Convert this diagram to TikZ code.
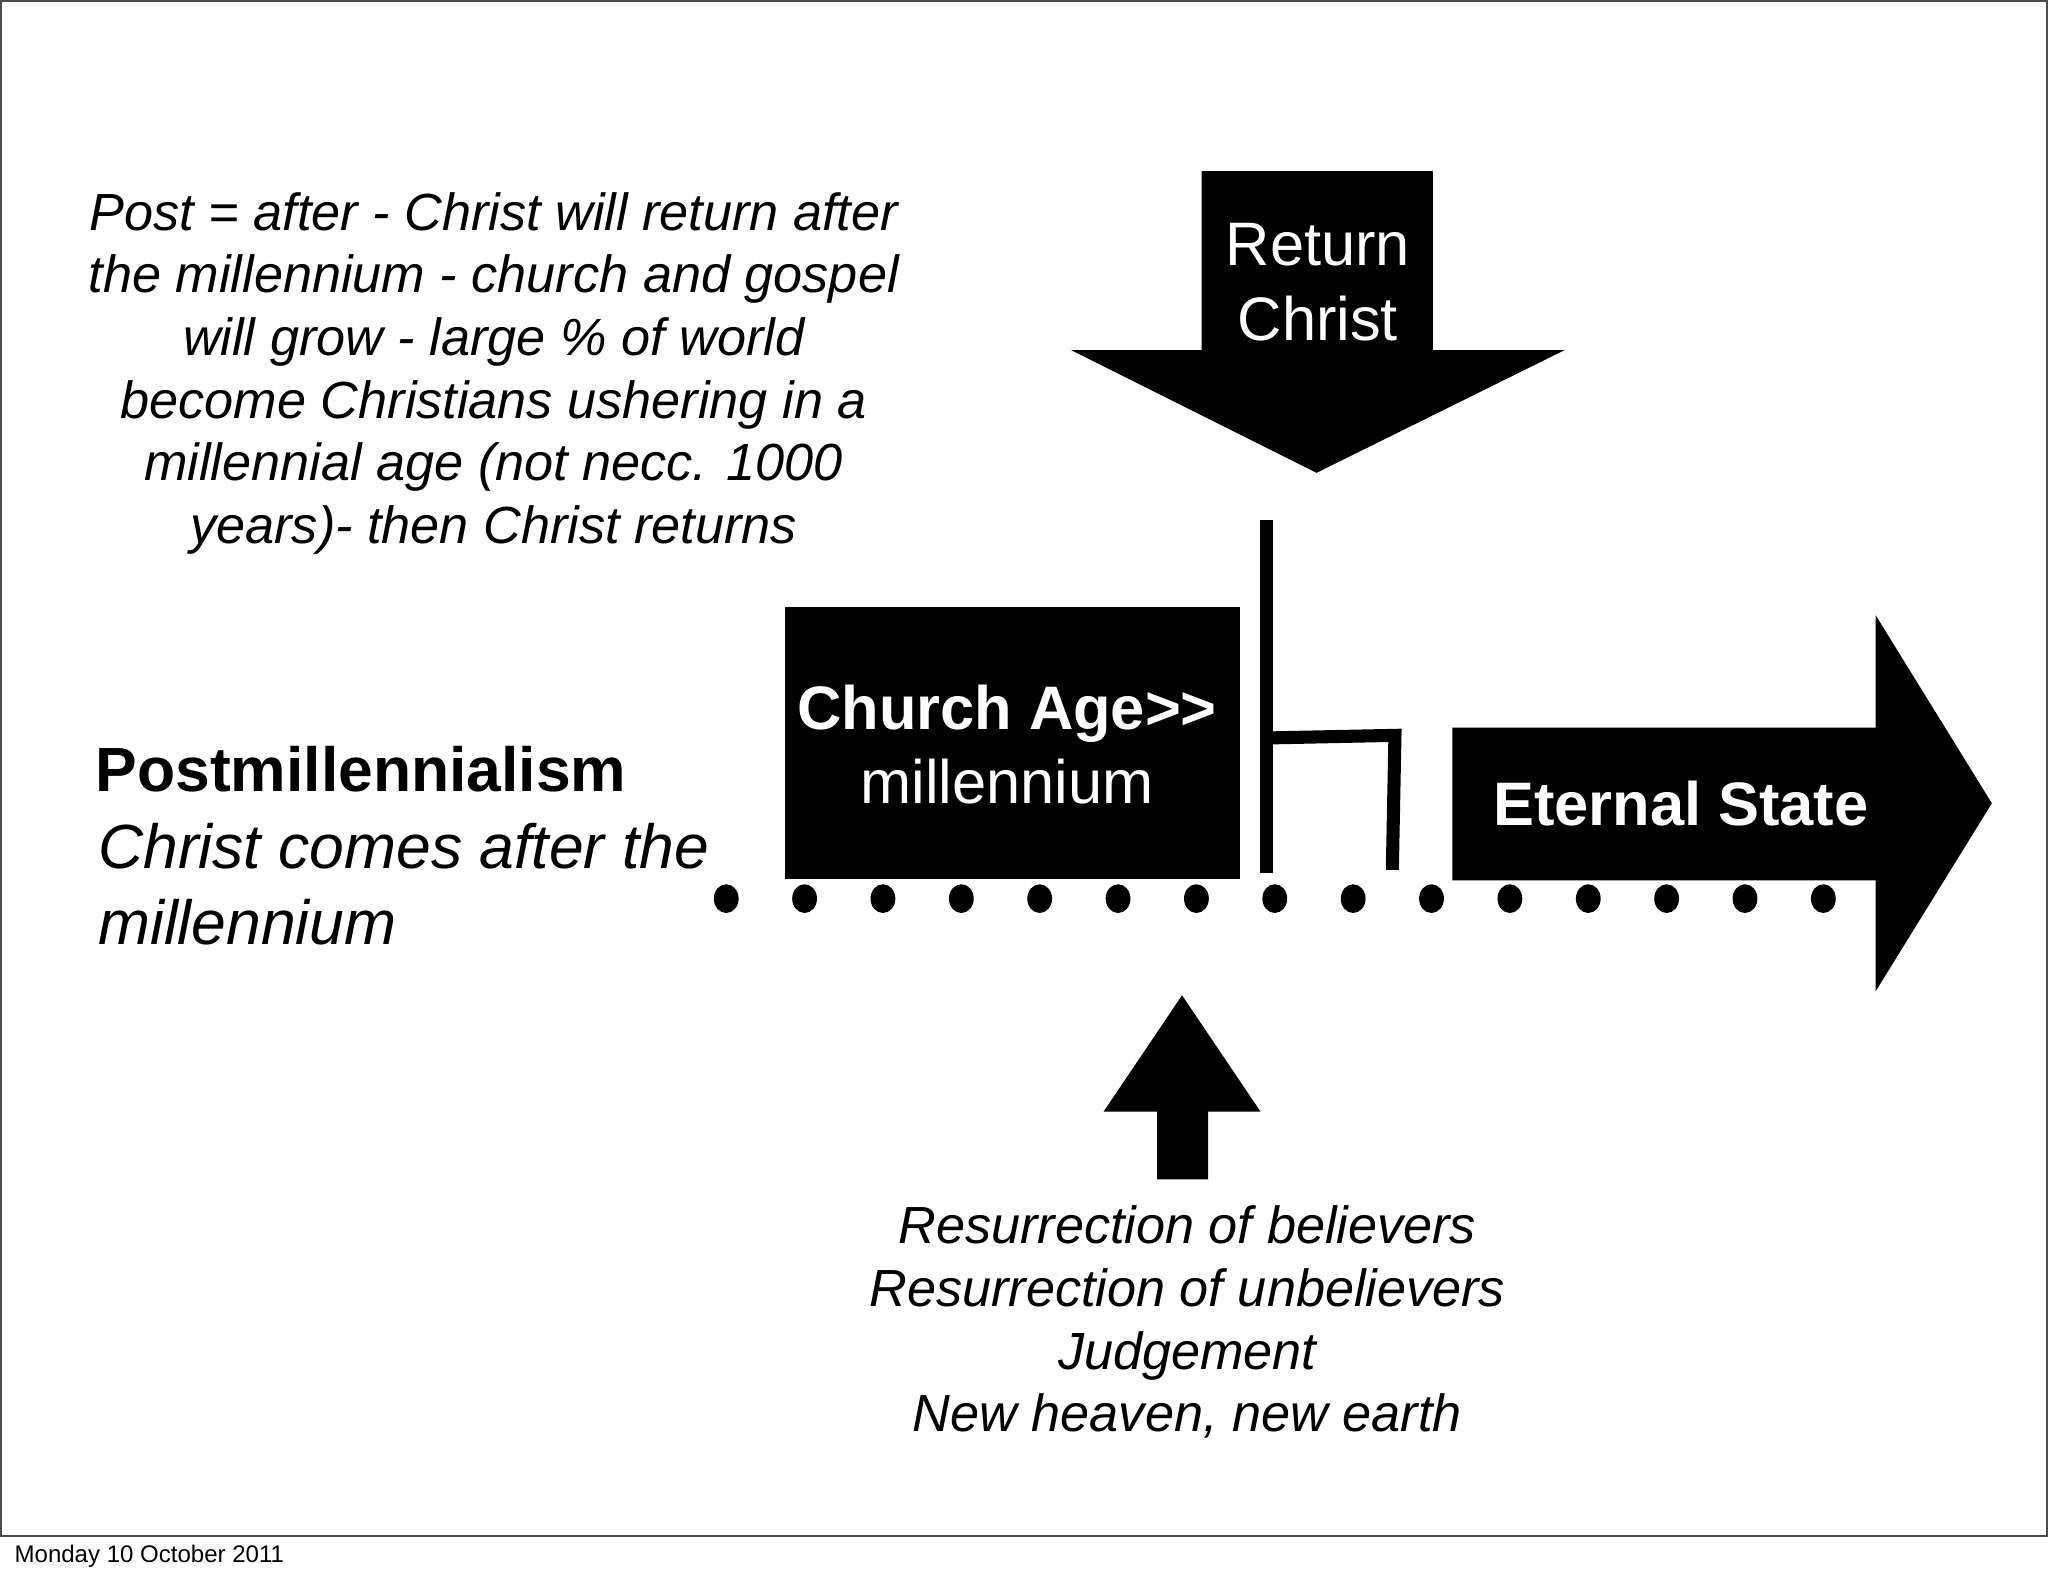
\documentclass[tikz,border=0pt]{standalone}
\usepackage{fontspec}
\setmainfont{Liberation Sans}
\usetikzlibrary{positioning}
\tikzset{
  notetext/.style={font=\fontsize{40}{48}\selectfont\itshape, align=center, inner sep=0pt},
  whitetext/.style={text=white, font=\fontsize{47}{57}\selectfont, align=center, inner sep=0pt},
  bar/.style={line width=10pt, line join=miter},
}

\begin{document}
\begin{tikzpicture}[x=1pt, y=-1pt]
  \useasboundingbox (0,0) rectangle (1568,1207);
  % Slide frame and date
  \draw[gray!60!black, line width=1.2pt] (0.6,0.6) rectangle (1567.4,1176);
  \node[font=\fontsize{18.4}{20}\selectfont, anchor=base west, inner sep=0pt]
    (date) at (11,1196) {Monday 10 October 2011};

  % Explanation
  \node[notetext, anchor=north] (expl) at (378,147)
    {Post = after - Christ will return after\\
     the millennium - church and gospel\\
     will grow - large \% of world\\
     become Christians ushering in a\\
     millennial age (not necc. 1000\\
     years)- then Christ returns};

  % Title
  \node[font=\fontsize{47.8}{58}\selectfont\bfseries, anchor=base west, inner sep=0pt]
    (title) at (73,606) {Postmillennialism};
  \node[font=\fontsize{47.8}{58}\selectfont\itshape, anchor=north west, align=left, inner sep=0pt]
    (subtitle) at (75,630) {Christ comes after the\\millennium};

  % Return of Christ (down arrow)
  \fill (920,131) -- (1097,131) -- (1097,268) -- (1198,268) -- (1008,362)
    -- (820,268) -- (920,268) -- cycle;
  \node[whitetext, anchor=north] (return) at (1009,171) {Return\\Christ};

  % Church age box
  \node[fill=black, minimum width=348pt, minimum height=208pt, inner sep=0pt]
    (church) at (775,569) {};
  \node[whitetext, anchor=north] (churchtxt) at (771,524)
    {\bfseries Church Age>{}>\\millennium};

  % Bar shape after the church age
  \draw[bar] (970,398) -- (970,668);
  \draw[bar] (970,565) -- (1068,563) -- (1066,666);

  % Eternal state (right arrow)
  \fill (1112,557) -- (1436,557) -- (1436,471) -- (1525,615) -- (1436,759)
    -- (1436,674) -- (1112,674) -- cycle;
  \node[whitetext, font=\fontsize{47}{57}\selectfont\bfseries, anchor=base]
    (eternal) at (1287,632) {Eternal State};

  % Dotted time line
  \foreach \i in {0,...,14}{
    \fill (556+60*\i,688) ellipse (9.5 and 11);
  }

  % Up arrow
  \fill (905,762) -- (965,851) -- (925,851) -- (925,903) -- (886,903)
    -- (886,851) -- (845,851) -- cycle;
  \node[notetext, anchor=north] (events) at (909,923)
    {Resurrection of believers\\
     Resurrection of unbelievers\\
     Judgement\\
     New heaven, new earth};
\end{tikzpicture}
\end{document}
